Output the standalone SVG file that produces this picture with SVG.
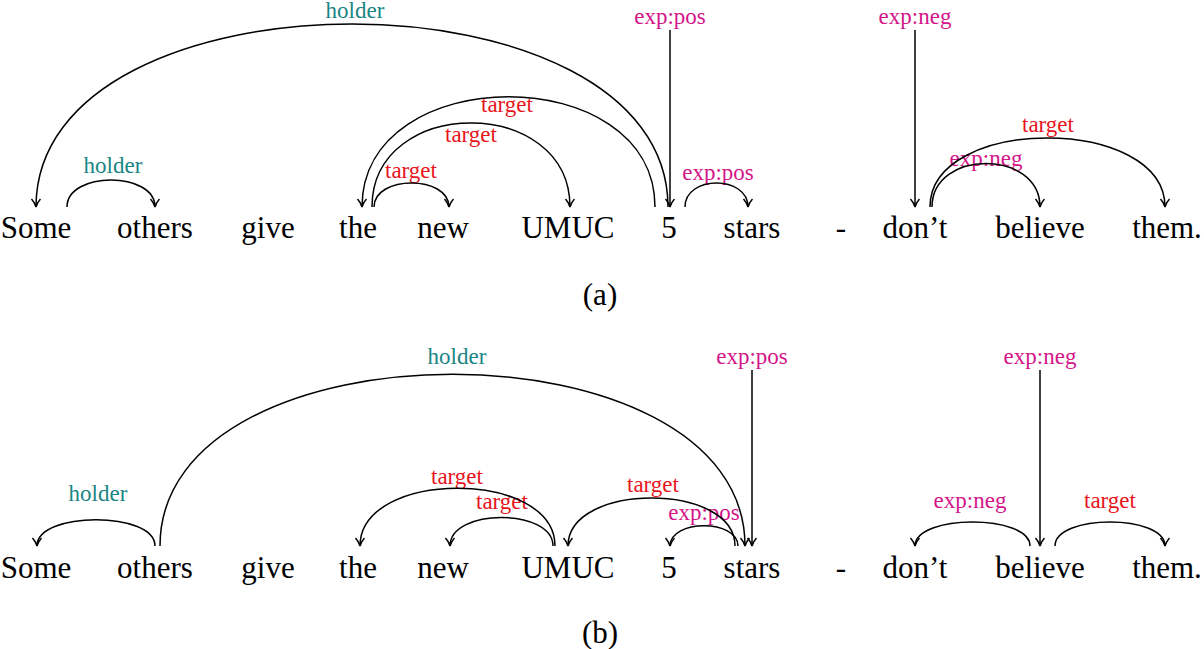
<svg xmlns="http://www.w3.org/2000/svg" width="1204" height="649" viewBox="0 0 1204 649">
<style>
.w{font-family:"Liberation Serif","Times New Roman",serif;font-size:31px;text-anchor:middle;fill:#000}
.l{font-family:"Liberation Serif","Times New Roman",serif;font-size:23px;text-anchor:middle}
.h{fill:#1a8585}.t{fill:#e8141c}.e{fill:#d4158a}
.a{fill:none;stroke:#000;stroke-width:1.5;marker-end:url(#ar)}
</style>
<defs><marker id="ar" markerWidth="12" markerHeight="12" refX="9" refY="5" orient="auto" markerUnits="userSpaceOnUse"><path d="M1,0.5 Q5,4 9,5 Q5,6 1,9.5" fill="none" stroke="#000" stroke-width="1.5"/></marker></defs>
<g id="words-a">
<text class="w" x="36" y="238">Some</text><text class="w" x="155" y="238">others</text><text class="w" x="268" y="238">give</text><text class="w" x="358" y="238">the</text><text class="w" x="443" y="238">new</text><text class="w" x="568" y="238">UMUC</text><text class="w" x="669" y="238">5</text><text class="w" x="752" y="238">stars</text><text class="w" x="841" y="238">-</text><text class="w" x="915" y="238">don’t</text><text class="w" x="1040" y="238">believe</text><text class="w" x="1167" y="238">them.</text>
<text class="w" x="600" y="305">(a)</text>
</g>
<g id="words-b">
<text class="w" x="36" y="578">Some</text><text class="w" x="155" y="578">others</text><text class="w" x="268" y="578">give</text><text class="w" x="358" y="578">the</text><text class="w" x="443" y="578">new</text><text class="w" x="568" y="578">UMUC</text><text class="w" x="669" y="578">5</text><text class="w" x="752" y="578">stars</text><text class="w" x="841" y="578">-</text><text class="w" x="915" y="578">don’t</text><text class="w" x="1040" y="578">believe</text><text class="w" x="1167" y="578">them.</text>
<text class="w" x="600" y="643">(b)</text>
</g>
<g id="labels">
<text class="l h" x="355" y="18">holder</text><text class="l h" x="113" y="173">holder</text>
<text class="l e" x="670" y="24">exp:pos</text><text class="l e" x="915" y="24">exp:neg</text>
<text class="l t" x="507" y="112">target</text><text class="l t" x="471" y="142">target</text><text class="l t" x="411" y="178">target</text>
<text class="l e" x="718" y="180">exp:pos</text><text class="l t" x="1048" y="132">target</text><text class="l e" x="986" y="166">exp:neg</text>
<text class="l h" x="457" y="364">holder</text><text class="l h" x="98" y="501">holder</text>
<text class="l e" x="752" y="364">exp:pos</text><text class="l e" x="1040" y="364">exp:neg</text>
<text class="l t" x="457" y="484">target</text><text class="l t" x="502" y="509">target</text><text class="l t" x="653" y="492">target</text>
<text class="l e" x="704" y="520">exp:pos</text><text class="l e" x="970" y="508">exp:neg</text><text class="l t" x="1110" y="508">target</text>
</g>
<g id="connectors">
<path class="a" d="M668,207 C668,-37 36,-37 36,207"/>
<path class="a" d="M67,207 C67,171 155,171 155,207"/>
<path class="a" d="M670,30 L670,207"/>
<path class="a" d="M655,207 C655,60 362,60 362,207"/>
<path class="a" d="M372,207 C372,95 570,95 570,207"/>
<path class="a" d="M374,207 C374,175 449,175 449,207"/>
<path class="a" d="M685,207 C685,175 748,175 748,207"/>
<path class="a" d="M915,30 L915,207"/>
<path class="a" d="M930,207 C930,115 1165,115 1165,207"/>
<path class="a" d="M932,207 C932,149 1040,149 1040,207"/>
<path class="a" d="M160,546 C160,317 745,317 745,546"/>
<path class="a" d="M155,546 C155,511 37,511 37,546"/>
<path class="a" d="M752,370 L752,546"/>
<path class="a" d="M555,546 C555,469 360,469 360,546"/>
<path class="a" d="M553,546 C553,508 450,508 450,546"/>
<path class="a" d="M735,546 C735,482 568,482 568,546"/>
<path class="a" d="M738,546 C738,519 670,519 670,546"/>
<path class="a" d="M1040,370 L1040,546"/>
<path class="a" d="M1030,546 C1030,514 915,514 915,546"/>
<path class="a" d="M1055,546 C1055,514 1165,514 1165,546"/>
</g>
</svg>
